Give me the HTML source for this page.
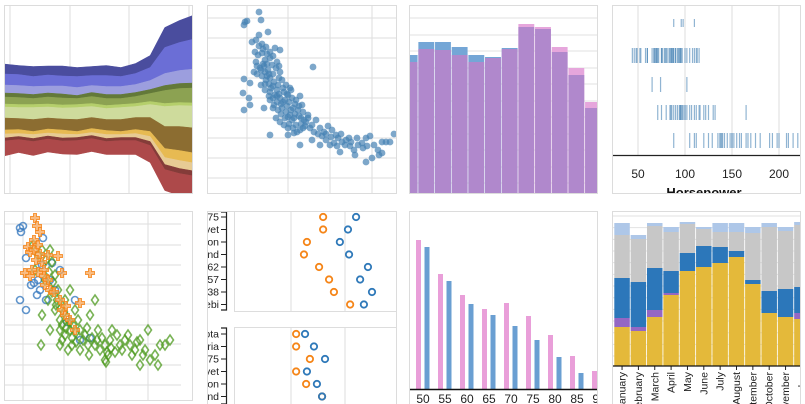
<!DOCTYPE html>
<html><head><meta charset="utf-8">
<style>
html,body{margin:0;padding:0;background:#fff;}
svg{display:block;font-family:"Liberation Sans",sans-serif;}
</style></head>
<body>
<svg id="chart" width="805" height="404" viewBox="0 0 805 404" xmlns="http://www.w3.org/2000/svg">
<defs>
<clipPath id="c1"><rect x="4" y="5" width="189" height="189"/></clipPath>
<clipPath id="c2"><rect x="207" y="5" width="190" height="189"/></clipPath>
<clipPath id="c3"><rect x="409" y="5" width="189" height="189"/></clipPath>
<clipPath id="c4"><rect x="612" y="5" width="189" height="189"/></clipPath>
<clipPath id="c5"><rect x="4" y="211" width="189" height="190"/></clipPath>
<clipPath id="c6"><rect x="207" y="211" width="190" height="193"/></clipPath>
<clipPath id="c7"><rect x="409" y="211" width="189" height="193"/></clipPath>
<clipPath id="c8"><rect x="612" y="211" width="189" height="193"/></clipPath>
</defs>
<g id="g1" clip-path="url(#c1)"></g>
<g id="g2" clip-path="url(#c2)"></g>
<g id="g3" clip-path="url(#c3)"></g>
<g id="g4" clip-path="url(#c4)"></g>
<g id="g5" clip-path="url(#c5)"></g>
<g id="g6" clip-path="url(#c6)"></g>
<g id="g7" clip-path="url(#c7)"></g>
<g id="g8" clip-path="url(#c8)"></g>
<g fill="none" stroke="#dcdcdc" stroke-width="1">
<rect x="4.5" y="5.5" width="188" height="188"/>
<rect x="207.5" y="5.5" width="189" height="188"/>
<rect x="409.5" y="5.5" width="188" height="188"/>
<rect x="612.5" y="5.5" width="188" height="188"/>
<rect x="4.5" y="211.5" width="188" height="189"/>
<rect x="207.5" y="211.5" width="189" height="193"/>
<rect x="409.5" y="211.5" width="188" height="193"/>
<rect x="612.5" y="211.5" width="188" height="193"/>
</g>
</svg>
<script>
// ---------- Panel 1: streamgraph ----------
const streamCenter=[105,104,106,104,105,106,104,105,106,104,104,104,103,102];
const streamNavy =[10,9,10,9,10,9,9,10,9,10,12,20,22,24];
const streamBlue =[11,11,10,11,10,11,10,11,10,11,13,26,28,30];
const streamLav  =[8,8,8,7,8,8,7,8,8,8,9,12,13,14];
const streamDkOl =[4,4,4,4,4,3,4,4,4,4,4,5,5,5];
const streamOlive=[7,7,6,7,7,6,7,7,6,7,8,13,14,15];
const streamLtGr =[3,3,3,3,3,3,3,3,3,3,3,3,3,3];
const streamPale =[11,11,12,11,11,12,11,11,12,11,13,20,21,22];
const streamBrown=[12,11,12,11,11,12,11,11,12,12,14,22,24,25];
const streamGold =[4,4,3,4,4,3,4,4,3,4,5,9,10,10];
const streamTan  =[4,3,4,3,4,3,3,4,3,4,5,7,8,8];
const streamDkRed=[3,3,3,3,3,3,3,3,3,3,4,5,5,5];
const streamRed  =[15,13,14,13,13,14,13,13,14,14,17,21,22,23];
// ---------- Panel 2: scatter ----------
const scatterPoints=[[38,172],[40,173],[37,169],[52,182],[54,174],[52,159],[61,162],[45,152],[49,154],[55,150],[59,147],[63,142],[68,146],[73,144],[48,142],[51,139],[55,141],[58,134],[63,136],[49,132],[53,126],[57,128],[61,124],[65,129],[69,126],[73,122],[47,122],[50,120],[55,118],[59,114],[63,116],[67,112],[71,109],[75,114],[79,109],[83,106],[54,109],[58,104],[63,102],[68,99],[73,96],[77,102],[81,99],[85,96],[89,94],[93,98],[95,89],[63,94],[67,89],[71,84],[75,86],[79,82],[83,79],[87,76],[91,84],[69,76],[73,72],[77,69],[81,66],[85,74],[89,69],[93,64],[97,74],[101,79],[36,101],[42,96],[43,89],[57,86],[63,59],[81,59],[87,61],[96,66],[101,76],[105,69],[109,74],[113,66],[117,62],[121,68],[125,64],[129,59],[119,54],[123,49],[127,51],[131,56],[135,52],[139,54],[143,48],[147,44],[151,49],[155,51],[159,56],[163,58],[167,49],[171,44],[175,52],[179,52],[183,52],[187,60],[105,54],[113,49],[133,42],[148,39],[159,32],[165,36],[172,39],[175,41],[93,49],[81,77],[94,76],[37,84],[43,111],[37,115],[106,127],[60,130],[66,120],[70,104],[76,92],[80,88],[86,86],[62,110],[72,100],
[52,148],[56,145],[60,140],[66,138],[70,132],[72,128],[56,130],[60,118],[64,106],[66,96],[70,92],[74,80],[78,76],[82,70],[86,66],[90,62],[94,70],[98,68],[58,122],[62,120],[66,108],[70,98],[74,90],[78,94],[82,92],[84,84],[88,80],[92,78],[96,82],[99,72],[103,66],[107,62],[111,60],[115,58],[119,60],[124,57],[130,48],[134,60],[138,49],[142,56],[144,52],[150,56],[156,46],[160,48],[50,128],[54,124],[58,110],[62,98],[66,86],[72,116],[76,106],[80,100],[84,104],[88,90],[92,88]];
// ---------- Panel 3: overlaid histogram ----------
const histA=[139,152,152,147,139,137,146,167,165,142,119,86];
const histB=[132,145,144,139,132,136,145,170,167,147,126,92];
// ---------- Panel 4: strip plot ----------
const stripRow1=[88,96,98,110];
const stripRow2=[44,46,48,49,52,53,58,60,60,65,67,67,68,69,70,70,71,72,75,75,76,78,79,80,81,83,84,85,86,86,87,88,88,90,90,92,93,94,95,95,96,97,100,102,105,108,110,112,113,115];
const stripRow3=[65,74,102];
const stripRow4=[71,75,80,84,85,86,88,90,92,94,95,95,96,97,98,100,100,102,105,107,110,112,115,116,120,122,125,130,132,165];
const stripRow5=[88,105,110,112,120,125,129,135,137,138,139,140,142,145,148,150,150,152,155,158,160,165,167,170,175,180,190,193,198,200,208,210,215,220];
const stripTicks=[50,100,150,200];
// ---------- Panel 5: multi-shape scatter ----------
const circlePts=[[16,172],[19,174],[17,168],[39,162],[22,142],[48,137],[27,115],[16,100],[33,105],[22,90],[30,117],[36,110],[42,100],[51,110],[63,78],[76,60],[86,62],[71,100],[46,120],[38,135],[56,130],[34,120]];
const diamondPts=[[29,155],[46,150],[31,130],[41,120],[48,138],[51,125],[54,110],[44,100],[38,85],[51,90],[56,80],[61,100],[66,110],[71,90],[66,70],[74,80],[58,60],[37,55],[81,65],[86,85],[91,100],[94,70],[96,50],[101,55],[106,60],[108,70],[113,65],[116,55],[121,60],[126,55],[131,50],[124,65],[136,60],[141,50],[146,40],[151,45],[156,55],[161,55],[166,60],[154,35],[84,55],[101,40],[104,45],[76,50],[85,45],[102,38],[56,55],[91,55],[111,48],[136,35],[144,70],[56,70],[61,65],[64,50],[68,55],[46,70],
[34,145],[38,150],[42,140],[45,128],[49,118],[53,100],[57,92],[60,88],[63,82],[66,78],[69,75],[72,68],[76,70],[79,60],[83,72],[88,62],[93,60],[98,62],[103,48],[107,52],[118,50],[128,45],[133,58],[139,45],[58,75],[62,72],[48,108],[52,95],[68,62],[72,58]];
const crossPts=[[31,182],[33,174],[30,160],[34,155],[24,153],[26,148],[38,138],[21,127],[26,124],[34,128],[40,130],[54,144],[58,127],[86,127],[41,115],[46,110],[56,100],[61,85],[76,97],[66,80],[71,70],[44,145],[32,140],[36,168],[28,130],[30,150],[36,146],[40,124],[44,120],[50,108],[58,90],[62,94]];
// ---------- Panel 6: dot plot (barley) ----------
const varieties1=["No. 475","Velvet","Glabron","Peatland","No. 462","No. 457","Wisconsin No. 38","Trebi"];
const yieldA1=[31.9,31.9,25.9,24.8,30.4,34.1,35.9,41.9];
const yieldB1=[44.1,41.1,38.1,41.5,48.5,45.6,50.0,47.0];
const varieties2=["Svansota","Manchuria","No. 475","Velvet","Glabron","Peatland"];
const yieldA2=[21.9,21.9,27.0,21.9,25.6,31.5];
const yieldB2=[25.2,28.5,32.6,25.9,29.6,31.5];
// ---------- Panel 7: grouped bars ----------
const groupCats=[50,55,60,65,70,75,80,85,90];
const groupPink=[149,115,94,80,86,73,54,33,18];
const groupBlue=[142,108,85,74,63,49,32,16,8];
// ---------- Panel 8: stacked bars ----------
const months=["January","February","March","April","May","June","July","August","September","October","November","December"];
const stackGold=[39,35,49,71,95,99,103,109,82,53,49,47];
const stackPurple=[9,4,7,2,0,0,0,0,0,0,0,6];
const stackBlue=[40,45,42,22,18,21,16,6,4,22,28,26];
const stackGray=[43,43,42,39,29,17,15,19,47,64,58,62];
const stackLight=[12,4,3,5,2,2,9,9,6,4,4,3];

const NS='http://www.w3.org/2000/svg';
function mk(tag,attrs,parent){const e=document.createElementNS(NS,tag);for(const k in attrs)e.setAttribute(k,attrs[k]);parent.appendChild(e);return e;}
function lin(d0,d1,r0,r1){return v=>r0+(v-d0)/(d1-d0)*(r1-r0);}
const G=id=>document.getElementById(id);

// ===== Panel 1 =====
(function(){
 const g=G('g1');
 [10,70,129,189].forEach(x=>{const l=mk('line',{x1:x,x2:x,y1:5,y2:194,stroke:'#ddd'},g);
  
  });
 const layers=[streamNavy,streamBlue,streamLav,streamDkOl,streamOlive,streamLtGr,streamPale,streamBrown,streamGold,streamTan,streamDkRed,streamRed];
 const cols=['#4a4d9e','#6b6ed6','#9c9ede','#637939','#8ca252','#b5cf6b','#cedb9c','#8c6d31','#e7ba52','#e7cb94','#843c39','#ad494a'];
 const names=['navy','blue','lavender','dark-olive','olive','light-green','pale-green','brown','gold','tan','dark-red','red'];
 const n=streamCenter.length;
 const x=lin(0,n-1,4,194), y=lin(0,189,5,194);
 const base=streamCenter.map((c,i)=>c-layers.reduce((s,L)=>s+L[i],0)/2);
 let cum=base.slice();
 layers.forEach((L,k)=>{
  const top=cum.slice(), bot=cum.map((v,i)=>v+L[i]);
  let d='M'+top.map((v,i)=>x(i)+','+y(v)).join('L');
  d+='L'+bot.map((v,i)=>x(i)+','+y(v)).reverse().join('L')+'Z';
  const p=mk('path',{d:d,fill:cols[k],stroke:cols[k],'stroke-width':0.5},g);
  
  
  cum=bot;
 });
})();

// ===== Panel 2 =====
(function(){
 const g=G('g2');
 const x=lin(0,190,207,397), y=lin(0,189,194,5);
 [247,288,330,372].forEach(v=>{const l=mk('line',{x1:v,x2:v,y1:5,y2:194,stroke:'#ddd'},g);
  
  });
 [18,38,58,78,98,118,138,158,178].forEach(v=>{const l=mk('line',{x1:207,x2:397,y1:v,y2:v,stroke:'#ddd'},g);
  
  });
 scatterPoints.forEach(p=>{const c=mk('circle',{cx:x(p[0]),cy:y(p[1]),r:3.4,fill:'#4682b4','fill-opacity':0.7},g);
  
  });
})();

// ===== Panel 3 =====
(function(){
 const g=G('g3');
 const y=lin(0,189,194,5);
 [18,35,51,68,84,101,117,134,150,167,183].forEach(v=>{const l=mk('line',{x1:409,x2:598,y1:v,y2:v,stroke:'#e2e2e2'},g);
  
  });
 const step=16.67, x0=401.7;
 histA.forEach((a,i)=>{
  const b=histB[i], xl=x0+i*step, w=step-0.8;
  const mx=Math.max(a,b), mn=Math.min(a,b);
  const r1=mk('rect',{x:xl,y:y(mx),width:w,height:y(0)-y(mx),fill:a>=b?'#74a6d6':'#e6a6dc'},g);
  
  
  const r2=mk('rect',{x:xl,y:y(mn),width:w,height:y(0)-y(mn),fill:'#b088cc'},g);
  
  
 });
})();

// ===== Panel 4 =====
(function(){
 const g=G('g4');
 const x=lin(50,200,638,779);
 stripTicks.forEach(t=>{
  const l=mk('line',{x1:x(t),x2:x(t),y1:5,y2:155,stroke:'#ddd'},g);
  
  
  const tx=mk('text',{x:x(t),y:178,'text-anchor':'middle','font-size':12,fill:'#222'},g);
  tx.textContent=t;
  
  
 });
 const rows=[[stripRow1,19,27],[stripRow2,48,63],[stripRow3,77,92],[stripRow4,105,120],[stripRow5,133,148]];
 rows.forEach(r=>r[0].forEach(v=>{
  const l=mk('line',{x1:x(v),x2:x(v),y1:r[1],y2:r[2],stroke:'#4682b4','stroke-opacity':0.6,'stroke-width':1.2},g);
  
  
 }));
 const ax=mk('line',{x1:612,x2:801,y1:155.5,y2:155.5,stroke:'#222','stroke-width':1.2},g);
 
 
 const t=mk('text',{x:704,y:197,'text-anchor':'middle','font-size':13,'font-weight':'bold',fill:'#111'},g);
 t.textContent='Horsepower';
 
 
})();

// ===== Panel 5 =====
(function(){
 const g=G('g5');
 const x=lin(0,189,4,193), y=lin(0,189,400,211);
 [23,64,106,148].forEach(v=>{const l=mk('line',{x1:v,x2:v,y1:211,y2:400,stroke:'#ddd'},g);
  
  });
 [224,245,265,285,304,325,344,365,385].forEach(v=>{const l=mk('line',{x1:4,x2:181,y1:v,y2:v,stroke:'#ddd'},g);
  
  });
 circlePts.forEach(p=>{const c=mk('circle',{cx:x(p[0]),cy:y(p[1]),r:3.5,fill:'none',stroke:'#3a7bbf','stroke-width':1.6,'stroke-opacity':0.8},g);
  
  });
 diamondPts.forEach(p=>{const cx=x(p[0]),cy=y(p[1]);
  const d=mk('path',{d:`M${cx},${cy-5}L${cx+3.5},${cy}L${cx},${cy+5}L${cx-3.5},${cy}Z`,fill:'none',stroke:'#4c9a1e','stroke-width':1.6,'stroke-opacity':0.75},g);
  
  });
 crossPts.forEach(p=>{const cx=x(p[0]),cy=y(p[1]);
  const d=mk('path',{d:`M${cx-1.5},${cy-4.5}h3v3h3v3h-3v3h-3v-3h-3v-3h3Z`,fill:'#f7a559','fill-opacity':0.75,stroke:'#f58518','stroke-width':1,'stroke-opacity':0.8},g);
  
  });
})();

// ===== Panel 6 =====
(function(){
 const g=G('g6');
 const x=lin(20,40,291,345);
 const facets=[[varieties1,yieldA1,yieldB1,211,311,217],[varieties2,yieldA2,yieldB2,327,405,334]];
 facets.forEach((f,fi)=>{
  const fr=mk('rect',{x:234.5,y:f[3]+0.5,width:163,height:f[4]-f[3],fill:'none',stroke:'#ddd'},g);
  
  
  [291,345].forEach(v=>{const l=mk('line',{x1:v,x2:v,y1:f[3],y2:f[4],stroke:'#ddd'},g);
   
   });
  const ax=mk('path',{d:`M221,${f[3]+1}H226.5V${f[4]-1}H221`,fill:'none',stroke:'#222','stroke-width':1.2},g);
  
  
  f[0].forEach((name,i)=>{
   const yy=f[5]+i*12.5;
   const tk=mk('line',{x1:221,x2:226,y1:yy,y2:yy,stroke:'#222'},g);
   
   
   const t=mk('text',{x:219,y:yy+3.5,'text-anchor':'end','font-size':10.5,fill:'#222'},g);
   t.textContent=name;
   
   
   const a=mk('circle',{cx:x(f[1][i]),cy:yy,r:3.2,fill:'none',stroke:'#f58518','stroke-width':1.8},g);
   
   
   const b=mk('circle',{cx:x(f[2][i]),cy:yy,r:3.2,fill:'none',stroke:'#2f79b9','stroke-width':1.8},g);
   
   
  });
 });
})();

// ===== Panel 7 =====
(function(){
 const g=G('g7');
 const x=lin(50,90,422,598), y=lin(0,178,389,211);
 groupCats.forEach((c,i)=>{
  const cx=x(c);
  const p=mk('rect',{x:cx-6,y:y(groupPink[i]),width:5,height:y(0)-y(groupPink[i]),fill:'#e99fd9'},g);
  
  
  const b=mk('rect',{x:cx+2.5,y:y(groupBlue[i]),width:5,height:y(0)-y(groupBlue[i]),fill:'#6a9fd2'},g);
  
  
  const t=mk('text',{x:cx+1,y:403,'text-anchor':'middle','font-size':12,fill:'#222'},g);
  t.textContent=c;
  
  
 });
 const ax=mk('line',{x1:409,x2:598,y1:389.5,y2:389.5,stroke:'#111','stroke-width':1.5},g);
 
 
})();

// ===== Panel 8 =====
(function(){
 const g=G('g8');
 const y=lin(0,150,366,216);
 for(let v=216;v<366;v+=11.67){const l=mk('line',{x1:612,x2:801,y1:v,y2:v,stroke:'#e2e2e2'},g);
  
  }
 const layers=[[stackGold,'#e4b93a','gold'],[stackPurple,'#9467c4','purple'],[stackBlue,'#2c77ba','blue'],[stackGray,'#c7c7c7','gray'],[stackLight,'#aec7e8','light-blue']];
 months.forEach((m,i)=>{
  const xl=614.3+i*16.35, w=15.5;
  let acc=0;
  layers.forEach(L=>{
   const v=L[0][i];
   const r=mk('rect',{x:xl,y:y(acc+v),width:w,height:y(acc)-y(acc+v),fill:L[1]},g);
   
   
   acc+=v;
  });
  const cx=xl+w/2;
  const tk=mk('line',{x1:cx,x2:cx,y1:366,y2:370,stroke:'#222'},g);
  
  
  const t=mk('text',{x:cx+3.5,y:372,'text-anchor':'end','font-size':10.5,fill:'#222',transform:`rotate(-90 ${cx+3.5} 372)`},g);
  t.textContent=m;
  
  
 });
 const ax=mk('line',{x1:612,x2:801,y1:366,y2:366,stroke:'#111','stroke-width':1.2},g);
 
 
})();
</script>
</body></html>
